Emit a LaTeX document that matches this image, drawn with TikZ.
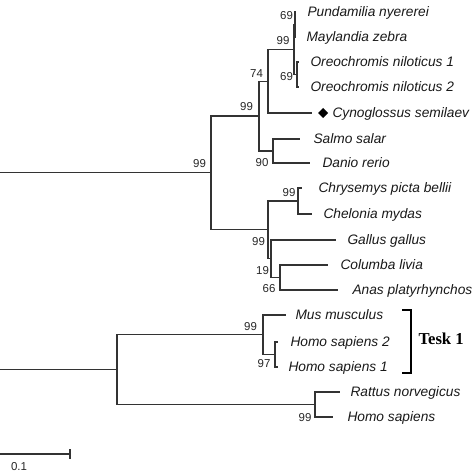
\documentclass[tikz,border=0pt]{standalone}
\usepackage{fontspec}
\setmainfont{Liberation Sans}
\newfontfamily\serifbold{Liberation Serif}

\tikzset{every picture/.style={line width=0.75pt}}
\tikzset{
  branch/.style={draw=black!80, line width=0.95pt},
  taxon/.style={anchor=west, inner sep=0pt, text height=7.4pt, text depth=0pt, text=black!90, font=\fontsize{10.3}{12}\selectfont\itshape},
  boot/.style={inner sep=0pt, text=black!85, font=\fontsize{8.6}{10}\selectfont},
}

\begin{document}
\begin{tikzpicture}[x=0.75pt,y=0.75pt,yscale=-1,xscale=1]
\useasboundingbox (0,0) rectangle (474,474);
\coordinate (lft) at (0,0);

%Internal nodes
\coordinate (up) at (211,172.75);
\coordinate (fish) at (259,116);
\coordinate (c74) at (268,81.5);
\coordinate (cich) at (294,49.5);
\coordinate (pm) at (295,24.5);
\coordinate (oreo) at (297,74.5);
\coordinate (sd) at (273,151);
\coordinate (birdrep) at (268,229.75);
\coordinate (turt) at (298,201);
\coordinate (c19) at (271,258.5);
\coordinate (ca) at (280,277.5);
\coordinate (low) at (117,369.6);
\coordinate (tesk) at (263,334.75);
\coordinate (hs) at (275,354.5);
\coordinate (rh) at (315,404.5);

%Tips
\coordinate (pund) at (296,12);
\coordinate (mayl) at (296,37);
\coordinate (ore1) at (299,62);
\coordinate (ore2) at (299,87);
\coordinate (cyno) at (312,113);
\coordinate (salm) at (300,139);
\coordinate (dani) at (310,163);
\coordinate (chry) at (302,188);
\coordinate (chel) at (312,214);
\coordinate (gall) at (336,240);
\coordinate (colu) at (328,265);
\coordinate (anas) at (338,290);
\coordinate (musm) at (286,315);
\coordinate (hsa2) at (278,342);
\coordinate (hsa1) at (278,367);
\coordinate (ratt) at (340,392);
\coordinate (hsap) at (333,417);

%Branches
\draw[branch] (up) -- (up -| lft);
\draw[branch] (low) -- (low -| lft);
\foreach \p/\c in {up/fish, up/birdrep, fish/c74, fish/sd, c74/cich, c74/cyno,
  cich/pm, cich/oreo, pm/pund, pm/mayl, oreo/ore1, oreo/ore2, sd/salm, sd/dani,
  birdrep/turt, birdrep/c19, turt/chry, turt/chel, c19/gall, c19/ca, ca/colu, ca/anas,
  low/tesk, low/rh, tesk/musm, tesk/hs, hs/hsa2, hs/hsa1, rh/ratt, rh/hsap}
  \draw[branch] (\p) |- (\c);

% Text Node
\node[taxon] (tpund) at (307,12) {Pundamilia nyererei};
\node[taxon] (tmayl) at (306,37) {Maylandia zebra};
\node[taxon] (tore1) at (310,62) {Oreochromis niloticus 1};
\node[taxon] (tore2) at (310,87) {Oreochromis niloticus 2};
\node[taxon] (tcyno) at (332,113) {Cynoglossus semilaev};
\node[taxon] (tsalm) at (313,139) {Salmo salar};
\node[taxon] (tdani) at (322,163) {Danio rerio};
\node[taxon] (tchry) at (318,188) {Chrysemys picta bellii};
\node[taxon] (tchel) at (323,214) {Chelonia mydas};
\node[taxon] (tgall) at (347,240) {Gallus gallus};
\node[taxon] (tcolu) at (340,265) {Columba livia};
\node[taxon] (tanas) at (352,290) {Anas platyrhynchos};
\node[taxon] (tmusm) at (295,315) {Mus musculus};
\node[taxon] (thsa2) at (290,342) {Homo sapiens 2};
\node[taxon] (thsa1) at (288,367) {Homo sapiens 1};
\node[taxon] (tratt) at (350,392) {Rattus norvegicus};
\node[taxon] (thsap) at (347,417) {Homo sapiens};

%Shape: Diamond
\fill[black] (323,108) -- (328,113) -- (323,118) -- (318,113) -- cycle;

% Bootstrap values
\node[boot] (bpm) at (286.5,16) {69};
\node[boot] (bcich) at (283,41) {99};
\node[boot] (boreo) at (286.5,77) {69};
\node[boot] (bc74) at (256.5,74) {74};
\node[boot] (bfish) at (246.5,107) {99};
\node[boot] (bup) at (199.5,164) {99};
\node[boot] (bsd) at (262,163) {90};
\node[boot] (bturt) at (289,192.5) {99};
\node[boot] (bbird) at (258.5,242) {99};
\node[boot] (bc19) at (262.5,271) {19};
\node[boot] (bca) at (269,289) {66};
\node[boot] (btesk) at (250.5,326.5) {99};
\node[boot] (bhs) at (264,364) {97};
\node[boot] (brh) at (305,417.5) {99};

%Bracket
\draw[line width=1.5pt] (402,310) -- (411,310) -- (411,373) -- (402,373);
\node[anchor=west, inner sep=0pt, text height=8.3pt, text depth=0pt, font=\serifbold\bfseries\fontsize{12.5}{14}\selectfont] (tesk1) at (418,339) {Tesk 1};

%Scale bar
\coordinate (sb0) at (0,454);
\coordinate (sb1) at (70,454);
\draw[branch] (sb0) -- (sb1);
\draw[branch] (sb1) ++(0,-5) -- ++(0,10);
\node[boot] (sblabel) at (19,467) {0.1};

\end{tikzpicture}
\end{document}
